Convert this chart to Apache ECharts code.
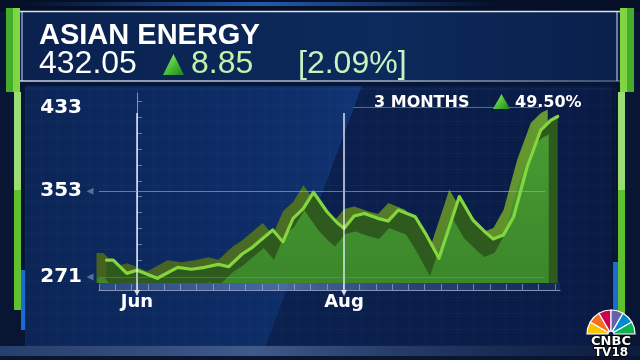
<!DOCTYPE html>
<html><head><meta charset="utf-8">
<script src="https://cdn.jsdelivr.net/npm/echarts@6/dist/echarts.min.js"></script>
<style>html,body{margin:0;padding:0;background:#081533;}#c{width:640px;height:360px;}</style>
</head><body><div id="c"></div>
<script>
// ---------------- data ----------------
const title = 'ASIAN ENERGY';
const lastPrice = '432.05';
const change = '8.85';
const changePct = '[2.09%]';
const periodLabel = '3 MONTHS';
const periodChange = '49.50%';

const dates = ['2023-05-23','2023-05-25','2023-05-29','2023-06-01','2023-06-07','2023-06-13','2023-06-17','2023-06-21','2023-06-25','2023-06-28',
  '2023-07-02','2023-07-05','2023-07-11','2023-07-14','2023-07-17','2023-07-20','2023-07-23','2023-07-27','2023-07-30','2023-08-01',
  '2023-08-04','2023-08-07','2023-08-11','2023-08-14','2023-08-17','2023-08-22','2023-08-25','2023-08-29','2023-09-04','2023-09-08',
  '2023-09-12','2023-09-14','2023-09-17','2023-09-20','2023-09-24','2023-09-28','2023-10-01','2023-10-03'];
const prices = [287.2,287.2,274.5,277.4,269.8,280.3,278.4,280.3,283.1,280.8,
  293.0,299.4,315.9,304.7,327.1,336.3,352.0,333.4,322.9,317.5,
  329.3,331.7,327.1,324.5,335.0,328.6,312.8,288.9,347.9,325.5,
  312.8,307.3,311.1,328.6,376.4,411.5,421.0,424.4];

const xLabelDates = ['2023-06-01','2023-08-01'];
const xLabelTexts = ['Jun','Aug'];
const yLabelValues = [271, 353, 433];

// ---------------- helpers ----------------
const DAY = 86400000;
const T0 = Date.parse('2023-06-01T00:00:00Z');
const D = s => Math.round((Date.parse(s + 'T00:00:00Z') - T0) / DAY); // day number
const pxPerDay = 3.393;
const pxToD = px => (px - 137) / pxPerDay;
const xMin = pxToD(99), xMax = pxToD(560);
const yMin = 258.6, yMax = 446.9;
const yMinC = 282.5;
const xLabelDays = xLabelDates.map(D);
const seriesData = dates.map((d, i) => [D(d), prices[i]]);

const xTickVals = [];
for (let t = xMin; t <= xMax; t += 4.8) xTickVals.push(t);
const yTickVals = [];
for (let v = 272; v <= yMax; v += 15.15) yTickVals.push(v);

const lg = (x1, y1, x2, y2, stops) => new echarts.graphic.LinearGradient(x1, y1, x2, y2, stops.map(c => ({offset: c[0], color: c[1]})));

// ---------------- graphics ----------------
const graphics = [
  {type:'rect', z:-20, shape:{x:0,y:0,width:640,height:360}, style:{fill:'#081533'}},
  {type:'polygon', z:-19, shape:{points:[[25,86],[362,86],[266,346],[25,346]]}, style:{fill: lg(0,0,1,0,[[0,'#0b2557'],[0.85,'#0e2f6b'],[1,'#113574']])}},
  {type:'polygon', z:-19, shape:{points:[[362,86],[612,86],[612,346],[266,346]]}, style:{fill: lg(0,0,1,0,[[0,'#0b2150'],[1,'#091b45']])}},
  {type:'rect', z:-18, shape:{x:0,y:346,width:640,height:10}, style:{fill: lg(0,0,1,0,[[0,'rgba(70,105,165,0.5)'],[0.4,'rgba(100,135,195,0.6)'],[1,'rgba(40,70,130,0.15)']])}},
  {type:'rect', z:-18, shape:{x:99,y:283,width:461,height:7}, style:{fill: lg(0,0,1,0,[[0,'rgba(70,100,160,0.55)'],[0.4,'rgba(100,130,190,0.7)'],[1,'rgba(60,90,150,0.2)']])}},
  // header
  {type:'rect', z:-18, shape:{x:0,y:0,width:640,height:12}, style:{fill:'#050f27'}},
  {type:'rect', z:-17, shape:{x:20,y:2,width:480,height:4}, style:{fill: lg(0,0,1,0,[[0,'rgba(40,110,210,0)'],[0.5,'rgba(40,110,210,0.8)'],[1,'rgba(40,110,210,0)']])}},
  {type:'rect', z:-17, shape:{x:8,y:11,width:624,height:71}, style:{fill: lg(0,0,1,0,[[0,'#0a214f'],[0.6,'#0c2a5c'],[1,'#0a1f4a']])}},
  {type:'line', z:5, shape:{x1:8,y1:11.5,x2:632,y2:11.5}, style:{stroke:'#d5e2f0', lineWidth:1.5}},
  {type:'line', z:5, shape:{x1:20,y1:81,x2:632,y2:81}, style:{stroke: lg(0,0,1,0,[[0,'rgba(220,230,245,0.9)'],[0.6,'rgba(220,230,245,0.7)'],[1,'rgba(220,230,245,0.3)']]), lineWidth:1.5}},
  {type:'line', z:5, shape:{x1:22,y1:12,x2:22,y2:81}, style:{stroke:'rgba(230,240,250,0.9)', lineWidth:1}},
  {type:'line', z:5, shape:{x1:617,y1:12,x2:617,y2:81}, style:{stroke:'rgba(230,240,250,0.9)', lineWidth:1}},
  // green bars
  {type:'rect', z:6, shape:{x:6,y:8,width:7,height:84}, style:{fill:'#44ad2c'}},
  {type:'rect', z:6, shape:{x:13,y:8,width:7,height:84}, style:{fill:'#7fd642'}},
  {type:'rect', z:6, shape:{x:14,y:92,width:7,height:98}, style:{fill:'#9bdc74'}},
  {type:'rect', z:6, shape:{x:14,y:190,width:7,height:120}, style:{fill:'#5ec22f'}},
  {type:'rect', z:6, shape:{x:21,y:270,width:4,height:60}, style:{fill:'#1c6bd0'}},
  {type:'rect', z:6, shape:{x:620,y:8,width:7,height:84}, style:{fill:'#7fd642'}},
  {type:'rect', z:6, shape:{x:627,y:8,width:7,height:84}, style:{fill:'#44ad2c'}},
  {type:'rect', z:6, shape:{x:618,y:92,width:7,height:98}, style:{fill:'#9bdc74'}},
  {type:'rect', z:6, shape:{x:618,y:190,width:7,height:125}, style:{fill:'#5ec22f'}},
  {type:'rect', z:6, shape:{x:613,y:262,width:5,height:70}, style:{fill:'#1c6bd0'}},
  // header texts
  {type:'text', z:10, x:39, y:36, style:{text:title, font:'bold 29px "Liberation Sans", Arial', fill:'#ffffff', verticalAlign:'middle', align:'left'}},
  {type:'text', z:10, x:39, y:64.5, style:{text:lastPrice, font:'32px "Liberation Sans", Arial', fill:'#ffffff', verticalAlign:'middle', align:'left'}},
  {type:'polygon', z:10, shape:{points:[[163,75],[184,75],[173.5,54]]}, style:{fill: lg(0,0,1,1,[[0,'#b6f08a'],[0.5,'#4cc23a'],[1,'#1d7f1d']])}},
  {type:'text', z:10, x:191, y:64.5, style:{text:change, font:'32px "Liberation Sans", Arial', fill:'#bff3ad', verticalAlign:'middle', align:'left'}},
  {type:'text', z:10, x:298, y:64.5, style:{text:changePct, font:'32px "Liberation Sans", Arial', fill:'#c6f3c0', verticalAlign:'middle', align:'left'}},
  // period
  {type:'text', z:10, x:374, y:102.5, style:{text:periodLabel, font:'bold 16px "DejaVu Sans"', fill:'#ffffff', verticalAlign:'middle', align:'left'}},
  {type:'polygon', z:10, shape:{points:[[493,109],[510,109],[501.5,94]]}, style:{fill: lg(0,0,1,1,[[0,'#b6f08a'],[0.5,'#4cc23a'],[1,'#1d7f1d']])}},
  {type:'text', z:10, x:515, y:102.5, style:{text:periodChange, font:'bold 16px "DejaVu Sans"', fill:'#ffffff', verticalAlign:'middle', align:'left'}}
];
// logo
const feathers = ['#f7c600','#f37021','#cc004c','#6460aa','#0089d0','#0db14b'];
feathers.forEach((c, i) => {
  graphics.push({type:'sector', z:20, shape:{cx:611, cy:334, r:24, r0:3, startAngle: Math.PI + i*Math.PI/6, endAngle: Math.PI + (i+1)*Math.PI/6}, style:{fill:c, stroke:'#ffffff', lineWidth:1.2}});
});
graphics.push({type:'text', z:21, x:611, y:342, style:{text:'CNBC', font:'bold 13px "DejaVu Sans"', fill:'#ffffff', stroke:'#000000', lineWidth:2, align:'center', verticalAlign:'middle'}});
graphics.push({type:'text', z:21, x:611, y:353, style:{text:'TV18', font:'bold 12px "DejaVu Sans"', fill:'#ffffff', stroke:'#000000', lineWidth:2, align:'center', verticalAlign:'middle'}});

// ---------------- chart ----------------
const chart = echarts.init(document.getElementById('c'), null, {renderer:'canvas'});
const hiddenX = gi => ({gridIndex:gi, type:'value', min:xMin, max:xMax, show:false});
const option = {
  backgroundColor:'#081533',
  animation:false,
  graphic: graphics,
  grid:[
    {left:99, top:93, width:461, height:197},
    {left:89, top:86, width:461, height:197},
    {left:90, top:111, width:461, height:172},
    {left:25, top:88, width:590, height:257}
  ],
  xAxis:[
    {gridIndex:0, type:'value', min:xMin, max:xMax,
      axisLine:{show:true, lineStyle:{color:'#8392b5', width:1}},
      axisTick:{show:true, inside:true, length:6, customValues:xTickVals, lineStyle:{color:'rgba(190,205,235,0.5)'}},
      axisLabel:{customValues:xLabelDays, formatter: v => { const k = xLabelDays.indexOf(v); return k >= 0 ? xLabelTexts[k] : ''; },
        color:'#ffffff', fontFamily:'DejaVu Sans', fontWeight:'bold', fontSize:18, margin:3},
      splitLine:{show:false}},
    hiddenX(1), hiddenX(2),
    {gridIndex:3, type:'value', min:0, max:590, interval:16, axisLine:{show:false}, axisTick:{show:false}, axisLabel:{show:false},
      splitLine:{show:true, lineStyle:{color:'rgba(90,140,220,0.06)', width:1}}}
  ],
  yAxis:[
    {gridIndex:0, type:'value', min:yMin, max:yMax,
      axisLine:{show:true, lineStyle:{color:'#8392b5', width:1}},
      axisTick:{show:true, inside:true, length:5, customValues:yTickVals, lineStyle:{color:'rgba(170,185,215,0.6)'}},
      axisLabel:{customValues:yLabelValues, formatter: v => String(v), color:'#ffffff', fontFamily:'DejaVu Sans', fontWeight:'bold', fontSize:20, margin:17},
      splitLine:{show:false}},
    {gridIndex:1, type:'value', min:yMin, max:yMax, show:false},
    {gridIndex:2, type:'value', min:yMinC, max:yMax, show:false},
    {gridIndex:3, type:'value', min:0, max:257, interval:16, axisLine:{show:false}, axisTick:{show:false}, axisLabel:{show:false},
      splitLine:{show:true, lineStyle:{color:'rgba(90,140,220,0.06)', width:1}}}
  ],
  series:[
    {name:'ribbonTop', type:'line', xAxisIndex:1, yAxisIndex:1, data:seriesData, symbol:'none', z:2,
      lineStyle:{width:0}, areaStyle:{opacity:1, color: lg(0,0,1,0,[[0,'#45601f'],[0.5,'#4d7024'],[1,'#679a30']])}},
    {name:'ribbonFace', type:'line', xAxisIndex:0, yAxisIndex:0, data:seriesData, symbol:'none', z:3,
      lineStyle:{width:0}, areaStyle:{opacity:1, origin:265.3, color:'#2e5a1e'}},
    {name:'fill', type:'line', xAxisIndex:2, yAxisIndex:2, data:seriesData, symbol:'none', z:4,
      lineStyle:{width:0}, areaStyle:{opacity:1, color: lg(0,0,0,1,[[0,'#479b32'],[1,'#3a852a']])}},
    {name:'price', type:'line', xAxisIndex:0, yAxisIndex:0, data:seriesData, symbol:'none', z:5,
      lineStyle:{width:3.2, color:'#84d63f', join:'round', cap:'round'},
      markLine:{silent:true, symbol:'none', label:{show:false}, z:6, animation:false,
        data:[
          [{coord:[xLabelDays[0], 427.7], lineStyle:{color:'rgba(240,245,255,0.9)', width:1.5, type:'solid'}},{coord:[xLabelDays[0], yMin]}],
          [{coord:[xLabelDays[1], 427.7], lineStyle:{color:'rgba(240,245,255,0.9)', width:1.5, type:'solid'}},{coord:[xLabelDays[1], yMin]}],
          [{coord:[xMin, 353], lineStyle:{color:'rgba(150,168,205,0.65)', width:1, type:'solid'}},{coord:[pxToD(545), 353]}],
          [{coord:[pxToD(353), 433], lineStyle:{color:'rgba(150,168,205,0.55)', width:1, type:'solid'}},{coord:[pxToD(540), 433]}],
          [{coord:[xMin, 271], lineStyle:{color:'rgba(150,168,205,0.3)', width:1, type:'solid'}},{coord:[pxToD(545), 271]}]
        ]}},
    {name:'yMarks', type:'scatter', xAxisIndex:0, yAxisIndex:0, clip:false, silent:true, z:6,
      data:[[xMin, 353],[xMin, 271]], symbol:'triangle', symbolSize:7, symbolRotate:90, symbolOffset:[-9,0],
      itemStyle:{color:'#6f7f9f'}},
    {name:'xMarks', type:'scatter', xAxisIndex:0, yAxisIndex:0, clip:false, silent:true, z:6,
      data:xLabelDays.map(t => [t, yMin]), symbol:'triangle', symbolSize:6, symbolRotate:180, symbolOffset:[0,3],
      itemStyle:{color:'#ffffff'}}
  ]
};
chart.setOption(option);
</script>
</body></html>
